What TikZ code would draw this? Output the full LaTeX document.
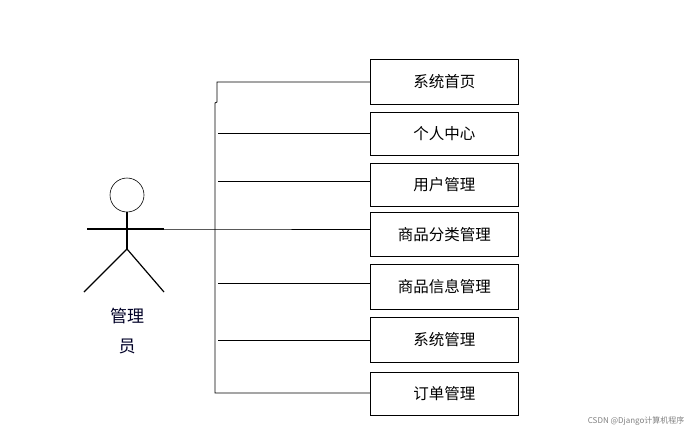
\documentclass[tikz,border=0pt]{standalone}
\usepackage{fontspec}
\setmainfont{Noto Sans CJK SC}
\begin{document}
\begin{tikzpicture}[x=1pt,y=-1pt,
  ucbox/.style={draw,line width=0.8pt,minimum width=148pt,anchor=north west,inner sep=0pt,font=\fontsize{15.5}{18}\selectfont},
  wire/.style={line width=0.7pt}]
\useasboundingbox (0,0) rectangle (692,434);
\node[ucbox,minimum height=45pt] (b1) at (370,59) {系统首页};
\node[ucbox,minimum height=43pt] (b2) at (370,112) {个人中心};
\node[ucbox,minimum height=43pt] (b3) at (370,163) {用户管理};
\node[ucbox,minimum height=44pt] (b4) at (370,212) {商品分类管理};
\node[ucbox,minimum height=45pt] (b5) at (370,264) {商品信息管理};
\node[ucbox,minimum height=45pt] (b6) at (370,317) {系统管理};
\node[ucbox,minimum height=43pt] (b7) at (370,372) {订单管理};
% actor
\node[draw,circle,minimum size=34pt,inner sep=0pt,line width=0.6pt] (head) at (127,195) {};
\coordinate (neck) at (127,212);
\coordinate (hip) at (127,249);
\coordinate (armL) at (87,229);
\coordinate (armR) at (164,229);
\draw[line width=1.2pt] (neck) -- (hip);
\draw[line width=1.2pt] (armL) -- (armR);
\draw[line width=1.2pt] (hip) -- (84,292) (hip) -- (164,292);
\node[font=\fontsize{17}{30}\selectfont,align=center,text=black!85!blue] (lbl) at (127,331) {管理\\员};
% wiring
\coordinate (bus) at (215,229);
\draw[wire] (armR) -- (bus) -- (bus -| b4.west);
\draw[wire] (b1.west |- 0,82) -- (217,82) -- (217,102) -- (215,103) -- (215,393) -- (b7.west |- 0,393);
\draw[wire] (218,133) -- (b2.west |- 0,133);
\draw[wire] (218,181) -- (b3.west |- 0,181);
\draw[wire] (218,283) -- (b5.west |- 0,283);
\draw[wire] (218,340) -- (b6.west |- 0,340);
\node[font=\fontsize{8}{9}\selectfont,text=gray,anchor=east] (wm) at (688,421) {CSDN @Django计算机程序};
\end{tikzpicture}
\end{document}
